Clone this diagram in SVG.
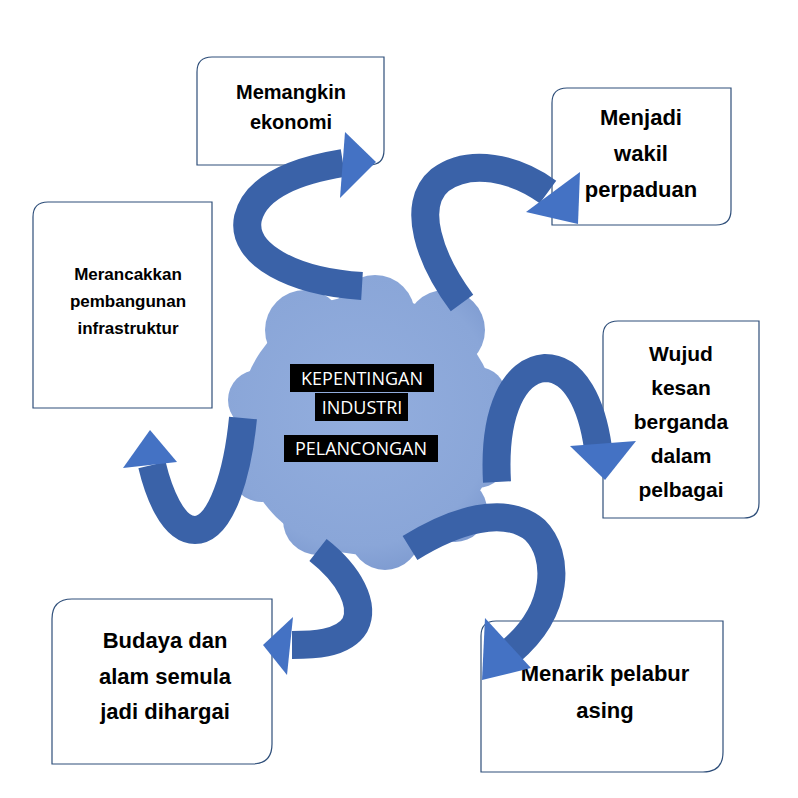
<svg xmlns="http://www.w3.org/2000/svg" width="798" height="798" viewBox="0 0 798 798">
<defs>
<radialGradient id="cg" gradientUnits="userSpaceOnUse" cx="360" cy="410" r="170"><stop offset="0" stop-color="#93AEDE"/><stop offset="0.8" stop-color="#8AA6D8"/><stop offset="1" stop-color="#7C99CF"/></radialGradient>
</defs>
<style>
.box{fill:#fff;stroke:#2F4F7A;stroke-width:1.2}
.t{font-family:"Liberation Sans",Arial,sans-serif;font-weight:bold;fill:#000;text-anchor:middle}
.band{fill:none;stroke:#3A62A8;stroke-width:28}
.head{fill:#4472C4}
.ct{font-family:"Open Sans","Liberation Sans",sans-serif;font-size:18px;fill:#fff;text-anchor:middle}
</style>
<rect width="798" height="798" fill="#fff"/>
<g id="cloud">
<g fill="url(#cg)">
<ellipse cx="368" cy="425" rx="130" ry="130"/>
<circle cx="305" cy="330" r="40"/><circle cx="375" cy="315" r="40"/><circle cx="445" cy="330" r="40"/>
<circle cx="478" cy="395" r="28"/><circle cx="478" cy="460" r="28"/><circle cx="455" cy="510" r="32"/>
<circle cx="385" cy="535" r="35"/><circle cx="318" cy="520" r="35"/><circle cx="262" cy="470" r="32"/>
<circle cx="258" cy="400" r="30"/>
</g>
<rect x="290" y="364" width="144" height="28" fill="#000"/>
<rect x="315" y="393" width="93" height="28" fill="#000"/>
<rect x="284" y="435" width="154" height="27" fill="#000"/>
<text class="ct" x="362" y="385">KEPENTINGAN</text>
<text class="ct" x="362" y="414">INDUSTRI</text>
<text class="ct" x="361" y="455">PELANCONGAN</text>
</g>
<g id="n1"><path class="box" d="M212,57 H384 V150 Q384,165 369,165 H197 V72 Q197,57 212,57Z"/>
<text class="t" font-size="20"><tspan x="291" y="99">Memangkin</tspan><tspan x="291" y="129">ekonomi</tspan></text></g>
<g id="n2"><path class="box" d="M567,88 H731 V210 Q731,225 716,225 H552 V103 Q552,88 567,88Z"/>
<text class="t" font-size="22"><tspan x="641" y="125">Menjadi</tspan><tspan x="641" y="161">wakil</tspan><tspan x="641" y="197">perpaduan</tspan></text></g>
<g id="n3"><path class="box" d="M48,202 H212 V408 H33 V217 Q33,202 48,202Z"/>
<text class="t" font-size="17"><tspan x="128" y="280">Merancakkan</tspan><tspan x="128" y="307">pembangunan</tspan><tspan x="128" y="334">infrastruktur</tspan></text></g>
<g id="n4"><path class="box" d="M618,321 H759 V503 Q759,518 744,518 H603 V336 Q603,321 618,321Z"/>
<text class="t" font-size="21"><tspan x="681" y="361">Wujud</tspan><tspan x="681" y="395">kesan</tspan><tspan x="681" y="429">berganda</tspan><tspan x="681" y="463">dalam</tspan><tspan x="681" y="497">pelbagai</tspan></text></g>
<g id="n5"><path class="box" d="M72,599 H272 V744 Q272,764 252,764 H52 V619 Q52,599 72,599Z"/>
<text class="t" font-size="22"><tspan x="165" y="648">Budaya dan</tspan><tspan x="165" y="684">alam semula</tspan><tspan x="165" y="719">jadi dihargai</tspan></text></g>
<g id="n6"><path class="box" d="M496,621 H723 V752 Q723,772 703,772 H481 V636 Q481,621 496,621Z"/>
<text class="t" font-size="22"><tspan x="605" y="681">Menarik pelabur</tspan><tspan x="605" y="718">asing</tspan></text></g>
<g id="connectors">
<path class="band" d="M362,286 C295,282 240,255 248,218 C256,185 300,170 343,163"/>
<polygon class="head" points="376,162 345,132 340,198"/>
<path class="band" d="M462,303 C430,260 410,205 440,180 C470,158 515,168 548,192"/>
<polygon class="head" points="578,224 580,172 526,212"/>
<path class="band" d="M497,482 C493,410 515,370 545,368 C575,368 592,405 598,448"/>
<polygon class="head" points="605,480 570,446 636,441"/>
<path class="band" d="M410,548 C455,520 505,505 535,530 C560,555 560,610 510,652"/>
<polygon class="head" points="482,680 485,618 531,668"/>
<path class="band" d="M318,550 C350,575 365,605 355,625 C343,645 310,645 292,645"/>
<polygon class="head" points="263,645 293,617 287,675"/>
<path class="band" d="M243,418 C238,470 222,530 195,530 C172,530 158,490 152,465"/>
<polygon class="head" points="150,430 123,468 177,462"/>
</g>
</svg>
